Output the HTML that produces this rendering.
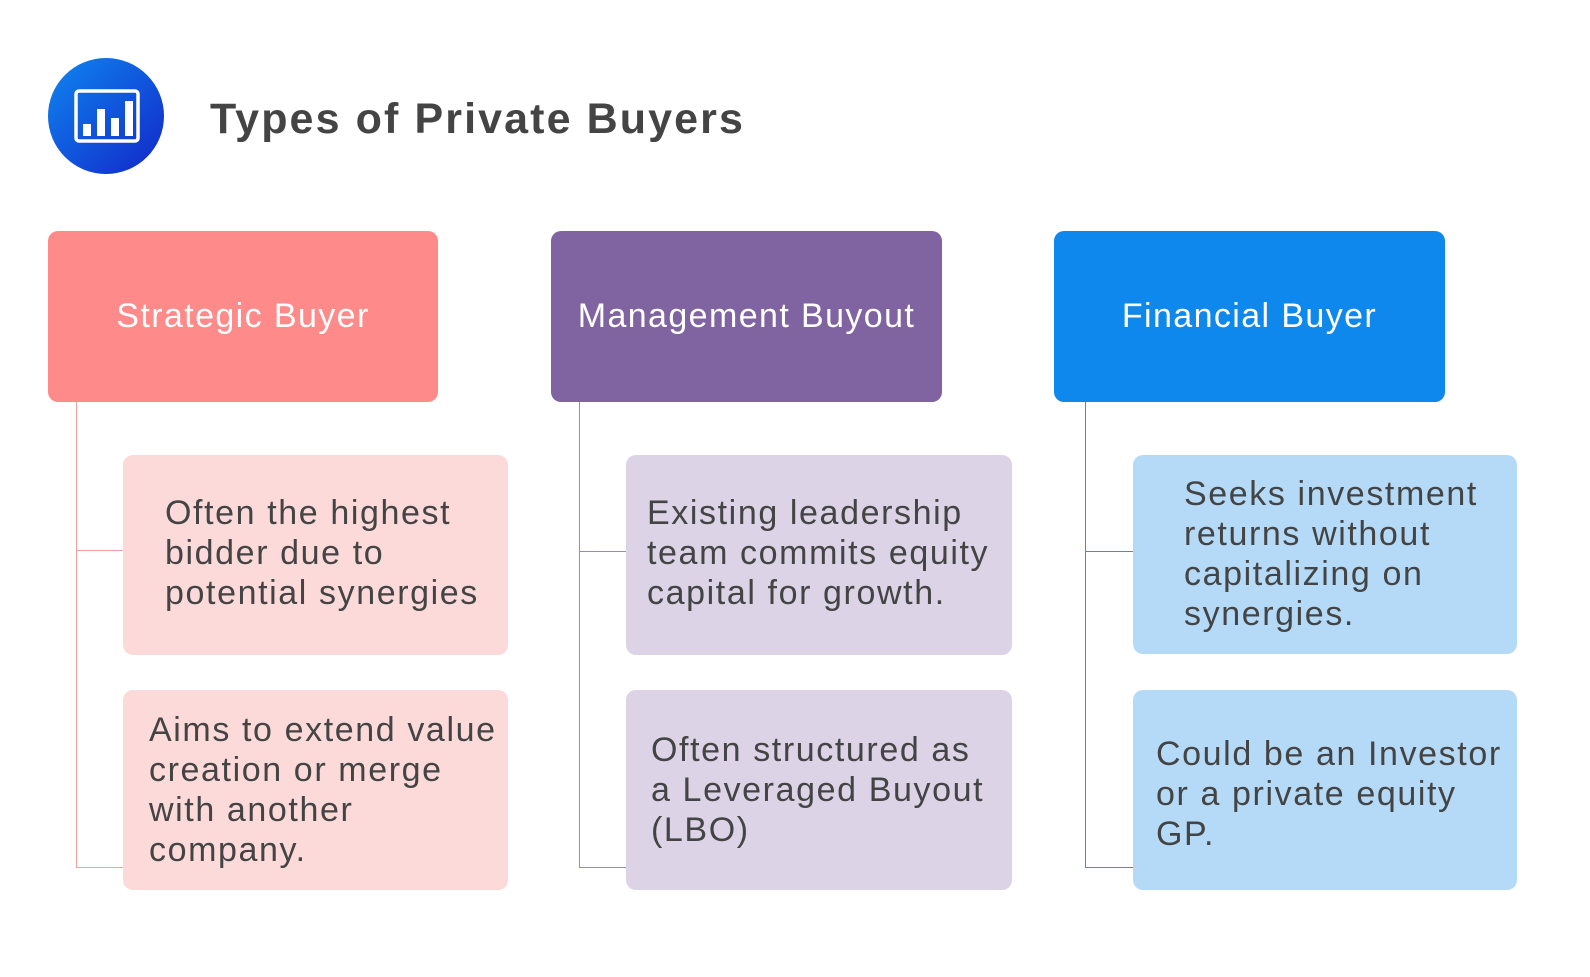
<!DOCTYPE html>
<html><head><meta charset="utf-8"><style>
body{margin:0;width:1590px;height:977px;background:#fff;position:relative;overflow:hidden;font-family:"Liberation Sans",sans-serif}
.a{position:absolute}
.h{position:absolute;border-radius:10px;color:#fff;font-size:34px;display:flex;align-items:center;justify-content:center;letter-spacing:1.4px}
.s{position:absolute;border-radius:10px}
.t{position:absolute;color:#444;font-size:34px;line-height:40px;letter-spacing:1.6px;white-space:nowrap}
.l{position:absolute}
</style></head><body>
<div class="a" style="left:48px;top:58px;width:116px;height:116px;border-radius:50%;background:linear-gradient(135deg,#0f86f0,#1226c8)"></div>
<svg class="a" style="left:74px;top:89px" width="66" height="54"><rect x="2" y="2" width="62" height="50" rx="3" fill="none" stroke="#fff" stroke-width="3.5"/><rect x="9" y="35" width="8" height="12" fill="#fff"/><rect x="23" y="20" width="8" height="27" fill="#fff"/><rect x="37" y="29" width="8" height="18" fill="#fff"/><rect x="51" y="12" width="8" height="35" fill="#fff"/></svg>
<div class="a" style="left:210px;top:95px;font-size:43px;font-weight:bold;color:#444;letter-spacing:2.1px">Types of Private Buyers</div>

<div class="l" style="left:76px;top:402px;width:1px;height:466px;background:#F4A0A0"></div>
<div class="l" style="left:76px;top:550px;width:48px;height:1px;background:#F4A0A0"></div>
<div class="l" style="left:76px;top:867px;width:48px;height:1px;background:#F4A0A0"></div>
<div class="l" style="left:579px;top:402px;width:1px;height:466px;background:#9B88BF"></div>
<div class="l" style="left:579px;top:551px;width:48px;height:1px;background:#9B88BF"></div>
<div class="l" style="left:579px;top:867px;width:48px;height:1px;background:#9B88BF"></div>
<div class="l" style="left:1085px;top:402px;width:1px;height:466px;background:#3A8FE0"></div>
<div class="l" style="left:1085px;top:551px;width:48px;height:1px;background:#3A8FE0"></div>
<div class="l" style="left:1085px;top:867px;width:48px;height:1px;background:#3A8FE0"></div>

<div class="h" style="left:48px;top:231px;width:390px;height:171px;background:#FF8A8A">Strategic Buyer</div>
<div class="h" style="left:551px;top:231px;width:391px;height:171px;background:#8064A2">Management Buyout</div>
<div class="h" style="left:1054px;top:231px;width:391px;height:171px;background:#0F88EE">Financial Buyer</div>

<div class="s" style="left:123px;top:455px;width:385px;height:200px;background:#FDDADA"></div>
<div class="s" style="left:123px;top:690px;width:385px;height:200px;background:#FDDADA"></div>
<div class="s" style="left:626px;top:455px;width:386px;height:200px;background:#DCD3E6"></div>
<div class="s" style="left:626px;top:690px;width:386px;height:200px;background:#DCD3E6"></div>
<div class="s" style="left:1133px;top:455px;width:384px;height:199px;background:#B5DAF8"></div>
<div class="s" style="left:1133px;top:690px;width:384px;height:200px;background:#B5DAF8"></div>

<div class="t" style="left:165px;top:493px">Often the highest<br>bidder due to<br>potential synergies</div>
<div class="t" style="left:149px;top:710px">Aims to extend value<br>creation or merge<br>with another<br>company.</div>
<div class="t" style="left:647px;top:493px">Existing leadership<br>team commits equity<br>capital for growth.</div>
<div class="t" style="left:651px;top:730px">Often structured as<br>a Leveraged Buyout<br>(LBO)</div>
<div class="t" style="left:1184px;top:474px">Seeks investment<br>returns without<br>capitalizing on<br>synergies.</div>
<div class="t" style="left:1156px;top:734px">Could be an Investor<br>or a private equity<br>GP.</div>
</body></html>
